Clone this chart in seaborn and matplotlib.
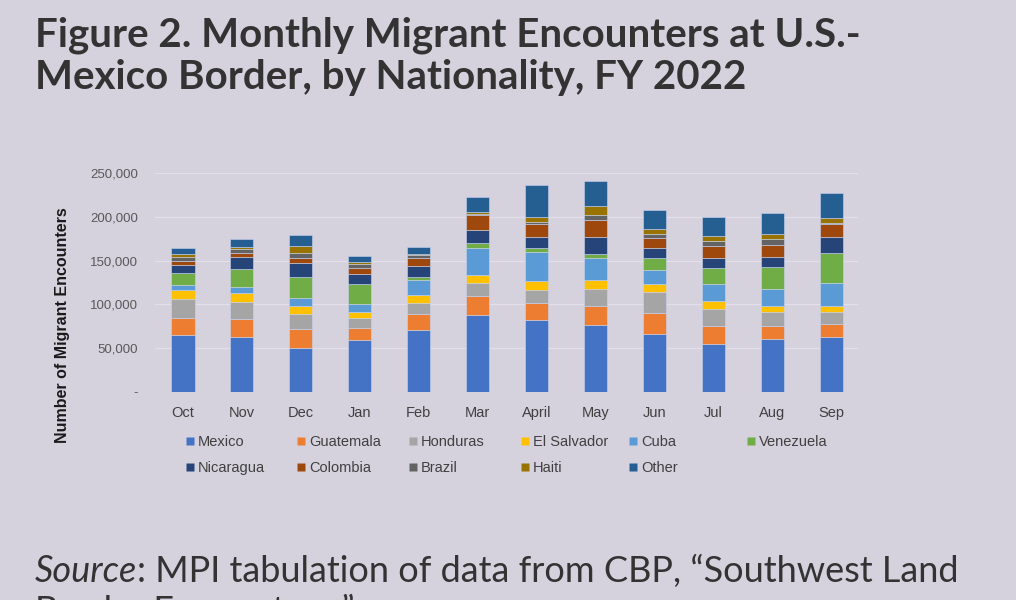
import matplotlib
matplotlib.use("Agg")
import matplotlib.pyplot as plt
from matplotlib.lines import Line2D
from matplotlib.ticker import FuncFormatter
import matplotlib.transforms as mtransforms
import numpy as np
import seaborn as sns

months = ["Oct", "Nov", "Dec", "Jan", "Feb", "Mar", "April", "May", "Jun", "Jul", "Aug", "Sep"]
nationalities = ["Mexico", "Guatemala", "Honduras", "El Salvador", "Cuba", "Venezuela",
                 "Nicaragua", "Colombia", "Brazil", "Haiti", "Other"]

mexico      = [65500, 62900, 50700, 59000, 71200, 87600, 81900, 77000, 65900, 55200, 60200, 62900]
guatemala   = [19500, 21000, 21000, 14100, 18300, 21700, 19800, 21300, 24800, 20200, 15200, 15200]
honduras    = [21000, 19000, 17900, 11800, 12600, 15200, 15200, 19800, 23600, 19800, 16000, 13300]
el_salvador = [10500, 10300,  9100,  6500,  8400,  9500,  9900,  9500,  9500,  8800,  6900,  6900]
cuba        = [ 6000,  6900,  8400,  9500, 17900, 30900, 33100, 25500, 15200, 19000, 19000, 26300]
venezuela   = [13500, 20600, 24400, 22900,  3000,  5300,  5000,  5000, 14100, 18700, 25500, 34300]
nicaragua   = [ 8500, 13000, 15200, 10700, 12200, 15200, 12200, 19000, 11400, 11400, 11400, 17500]
colombia    = [ 5000,  4600,  5700,  6500,  9900, 16400, 14500, 19800, 11800, 13300, 14100, 15200]
brazil      = [ 5000,  5000,  6500,  5000,  2700,  1900,  2700,  5000,  4600,  5700,  6100,  1000]
haiti       = [ 3000,  2000,  7600,  2700,  1100,  1900,  5700, 10300,  5000,  5700,  6500,  5700]
other       = [ 6500,  9900, 12600,  6100,  8400, 17100, 36200, 29000, 21700, 22100, 22900, 29300]

series = [mexico, guatemala, honduras, el_salvador, cuba, venezuela,
          nicaragua, colombia, brazil, haiti, other]
colors = ["#4472C4", "#ED7D31", "#A5A5A5", "#FFC000", "#5B9BD5", "#70AD47",
          "#264478", "#9E480E", "#636363", "#997300", "#255E91"]

yticks = [0, 50000, 100000, 150000, 200000, 250000]

BG = "#d5d2de"
TXT = "#333333"
sns.set_theme(style="white")
plt.rcParams["font.family"] = ["Liberation Sans", "DejaVu Sans"]

fig = plt.figure(figsize=(10.16, 6.0), dpi=100, facecolor=BG)
ax = fig.add_axes([155 / 1016, 1 - 392 / 600, (858 - 155) / 1016, (392 - 173) / 600])
ax.set_facecolor(BG)

bottom = np.zeros(len(months))
for name, vals, col in zip(nationalities, series, colors):
    sns.barplot(x=months, y=vals, bottom=bottom, color=col, saturation=1,
                width=0.4, errorbar=None, order=months, ax=ax,
                edgecolor="#c9d4ee", linewidth=0.4)
    bottom = bottom + np.array(vals)

ax.set_ylim(0, 250000)
ax.set_xlim(-0.47, 11.45)
ax.set_yticks(yticks)
ax.yaxis.set_major_formatter(FuncFormatter(lambda v, p: "-" if v == 0 else f"{int(v):,}"))
ax.grid(axis="y", color="#e2dfea", linewidth=0.9)
ax.set_axisbelow(True)
for s in ax.spines.values():
    s.set_visible(False)
ax.tick_params(axis="y", labelsize=9.5, colors="#595959", length=0, pad=12)
ax.tick_params(axis="x", labelsize=10.5, colors="#404040", length=0, pad=10)
ax.set_xlabel("")
ax.set_ylabel("")

fig.text(62 / 1016, 1 - 325 / 600, "Number of Migrant Encounters", rotation=90,
         ha="center", va="center", fontsize=11.5, fontweight="bold", color="#1a1a1a")

# legend, arranged in columns like the original
col_x = [185, 296, 408, 520, 628, 746]
cols = [[0, 6], [1, 7], [2, 8], [3, 9], [4, 10], [5]]
for cx, idxs in zip(col_x, cols):
    handles = [Line2D([], [], marker="s", linestyle="none", markersize=5.5,
                      markerfacecolor=colors[i], markeredgecolor="none") for i in idxs]
    labels = [nationalities[i] for i in idxs]
    fig.legend(handles, labels, loc="upper left", bbox_to_anchor=(cx / 1016, 1 - 435 / 600),
               frameon=False, fontsize=10.5, handlelength=0.7, handletextpad=0.2,
               labelspacing=0.85, borderpad=0, borderaxespad=0, labelcolor="#404040")

# title
fig.text(35 / 1016, 1 - 46 / 600, "Figure 2. Monthly Migrant Encounters at U.S.-",
         fontsize=29, fontweight="bold", family=["Lato", "DejaVu Sans"], color=TXT,
         va="baseline", ha="left")
fig.text(35 / 1016, 1 - 89 / 600, "Mexico Border, by Nationality, FY 2022",
         fontsize=29, fontweight="bold", family=["Lato", "DejaVu Sans"], color=TXT,
         va="baseline", ha="left")

# source (second line runs off the bottom edge, as in the original)
t1 = fig.text(35 / 1016, 1 - 582 / 600, "Source", fontsize=26, style="italic",
              family=["Lato", "DejaVu Sans"], color=TXT, va="baseline", ha="left")
fig.canvas.draw()
bb = t1.get_window_extent(renderer=fig.canvas.get_renderer())
off = mtransforms.offset_copy(fig.transFigure, fig=fig, x=bb.width * 72 / fig.dpi, y=0, units="points")
fig.text(35 / 1016, 1 - 582 / 600, ": MPI tabulation of data from CBP, \u201cSouthwest Land",
         fontsize=26, family=["Lato", "DejaVu Sans"], color=TXT, va="baseline",
         ha="left", transform=off)
fig.text(35 / 1016, 1 - 622 / 600, "Border Encounters.\u201d",
         fontsize=26, family=["Lato", "DejaVu Sans"], color=TXT, va="baseline", ha="left")

fig.savefig("out.png", dpi=100, facecolor=BG)
